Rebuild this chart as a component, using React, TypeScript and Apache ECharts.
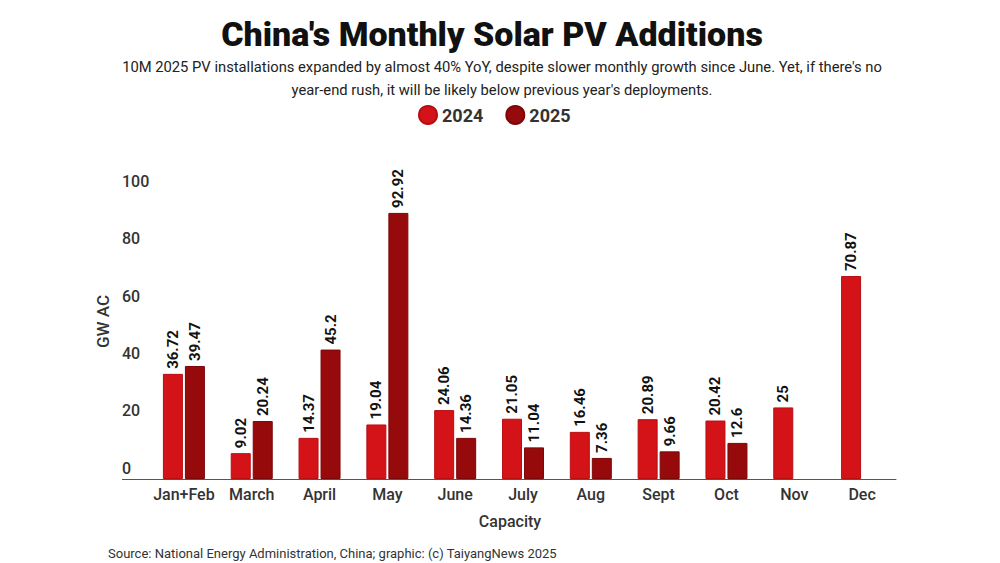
import React, { useEffect, useRef } from "react";
import * as echarts from "echarts";

const categories = ["Jan+Feb", "March", "April", "May", "June", "July", "Aug", "Sept", "Oct", "Nov", "Dec"];
const values2024 = [36.72, 9.02, 14.37, 19.04, 24.06, 21.05, 16.46, 20.89, 20.42, 25, 70.87];
const values2025 = [39.47, 20.24, 45.2, 92.92, 14.36, 11.04, 7.36, 9.66, 12.6, null, null];
const seriesNames = ["2024", "2025"];

const FONT = "Roboto, 'Noto Sans', sans-serif";
const TEXT = "#333333";

export default function App() {
  const ref = useRef<HTMLDivElement>(null);

  useEffect(() => {
    if (!ref.current) return;
    const chart = echarts.init(ref.current, null, { renderer: "svg" });

    const barLabel = {
      show: true,
      position: "top",
      rotate: 90,
      align: "left",
      verticalAlign: "middle",
      distance: 5,
      fontFamily: FONT,
      fontSize: 15,
      fontWeight: "bold",
      color: "#111111",
      formatter: (p: any) => (p.value == null ? "" : String(p.value)),
    };

    chart.setOption({
      animation: false,
      backgroundColor: "#ffffff",
      textStyle: { fontFamily: FONT },
      title: [
        {
          text: "China's Monthly Solar PV Additions",
          left: 487,
          top: 12,
          textAlign: "center",
          textStyle: { fontFamily: FONT, fontSize: 34, fontWeight: 900, color: "#111111" },
        },
        {
          text:
            "10M 2025 PV installations expanded by almost 40% YoY, despite slower monthly growth since June. Yet, if there's no\nyear-end rush, it will be likely below previous year's deployments.",
          left: 497,
          top: 50,
          textAlign: "center",
          textStyle: { fontFamily: FONT, fontSize: 14.75, lineHeight: 23, color: "#222222", fontWeight: "normal" },
        },
        {
          text: "Source: National Energy Administration, China; graphic: (c) TaiyangNews 2025",
          left: 103,
          top: 542,
          textStyle: { fontFamily: FONT, fontSize: 13, color: "#333333", fontWeight: "normal" },
        },
      ],
      legend: {
        data: seriesNames,
        top: 100,
        left: 413,
        icon: "circle",
        itemWidth: 18,
        itemHeight: 18,
        itemGap: 22,
        textStyle: { fontFamily: FONT, fontSize: 18, fontWeight: "bold", color: TEXT },
      },
      grid: { left: 150, right: 104, top: 164, bottom: 84, containLabel: false },
      xAxis: {
        type: "category",
        data: categories,
        axisTick: { show: false },
        axisLine: { lineStyle: { color: "#555555", width: 1 } },
        axisLabel: { interval: 0, fontFamily: FONT, fontSize: 16, fontWeight: 500, color: TEXT, margin: 7 },
        name: "Capacity",
        nameLocation: "middle",
        nameGap: 34,
        nameTextStyle: { fontFamily: FONT, fontSize: 16, fontWeight: 500, color: TEXT, padding: [0, 26, 0, 0] },
      },
      yAxis: {
        type: "value",
        min: 0,
        max: 110,
        interval: 20,
        splitLine: { show: false },
        axisLine: { show: false },
        axisTick: { show: false },
        axisLabel: {
          showMaxLabel: false,
          fontFamily: FONT,
          fontSize: 16,
          fontWeight: 500,
          color: TEXT,
          align: "left",
          verticalAlign: "bottom",
          padding: [0, 0, 3, 0],
          margin: 28,
        },
        name: "GW AC",
        nameLocation: "middle",
        nameGap: 31,
        nameTextStyle: { fontFamily: FONT, fontSize: 17, fontWeight: 500, color: TEXT },
      },
      graphic: [
        {
          type: "line",
          shape: { x1: 122, y1: 479.5, x2: 150, y2: 479.5 },
          style: { stroke: "#555555", lineWidth: 1 },
        },
      ],
      series: [
        {
          name: seriesNames[0],
          type: "bar",
          data: values2024,
          barWidth: 20,
          barGap: "10%",
          itemStyle: { color: "#d31317", borderColor: "#b80e12", borderWidth: 1 },
          label: barLabel,
        },
        {
          name: seriesNames[1],
          type: "bar",
          data: values2025,
          barWidth: 20,
          itemStyle: { color: "#970a0b", borderColor: "#7c0708", borderWidth: 1 },
          label: barLabel,
        },
      ],
    });

    return () => chart.dispose();
  }, []);

  return (
    <div
      ref={ref}
      style={{ position: "fixed", left: 0, top: 0, width: 1000, height: 563, background: "#fff" }}
    />
  );
}
